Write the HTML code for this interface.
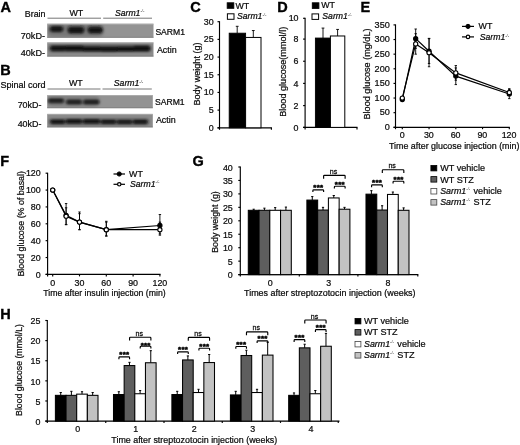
<!DOCTYPE html>
<html><head><meta charset="utf-8"><title>Figure</title>
<style>
html,body{margin:0;padding:0;background:#fff;}
svg{display:block;font-family:'Liberation Sans', Arial, sans-serif;filter:blur(0.3px);}
text{fill:#0a0a0a;}
.t{stroke:#0a0a0a;stroke-width:0.22;}
.p{stroke:#000;stroke-width:0.35;fill:#000;}
.s{stroke:#000;stroke-width:0.45;fill:#000;}
.n{stroke:#111;stroke-width:0.28;fill:#111;}
</style></head>
<body>
<svg width="520" height="445" viewBox="0 0 520 445">
<rect width="520" height="445" fill="#fff"/>
<defs><filter id="blur" x="-20%" y="-100%" width="140%" height="300%"><feGaussianBlur stdDeviation="1.0"/></filter><filter id="blur2" x="-20%" y="-100%" width="140%" height="300%"><feGaussianBlur stdDeviation="1.7"/></filter></defs>
<text class="p" x="0.6" y="11.9" font-size="14.5" font-weight="bold">A</text>
<text class="t" x="24.8" y="17.0" font-size="8.9">Brain</text>
<text class="t" x="76.3" y="15.9" font-size="8.9" text-anchor="middle">WT</text>
<text class="t" x="114.9" y="16.0" font-size="8.9"><tspan font-style="italic" font-size="8.68">Sarm1</tspan><tspan font-size="4.00" dy="-3.74" font-style="italic" stroke="none" fill="#333">-/-</tspan><tspan dy="3.74" dx="0.9"></tspan></text>
<line x1="47.50" y1="18.20" x2="101.00" y2="18.20" stroke="#666" stroke-width="0.9"/>
<line x1="103.20" y1="18.20" x2="152.00" y2="18.20" stroke="#666" stroke-width="0.9"/>
<clipPath id="c1"><rect x="47.2" y="23.7" width="106.3" height="14.1"/></clipPath>
<rect x="47.2" y="23.7" width="106.3" height="14.1" fill="#939393"/>
<g clip-path="url(#c1)">
<g filter="url(#blur2)">
<rect x="49.5" y="25.00" width="14.00" height="7" rx="3.5" fill="#101010" opacity="0.6"/>
<rect x="67.5" y="25.50" width="17.00" height="8" rx="4.0" fill="#101010" opacity="0.65"/>
<rect x="87.5" y="25.50" width="15.50" height="8" rx="4.0" fill="#101010" opacity="0.65"/>
<rect x="47" y="25.00" width="57.00" height="12" rx="6.0" fill="#101010" opacity="0.18"/>
</g>
<g filter="url(#blur)">
<rect x="50.5" y="27.20" width="12.00" height="4.0" rx="2.0" fill="#080808" opacity="0.95"/>
<rect x="68.5" y="28.20" width="15.00" height="4.4" rx="2.2" fill="#080808" opacity="0.95"/>
<rect x="88.5" y="28.10" width="13.50" height="4.4" rx="2.2" fill="#080808" opacity="0.95"/>
</g></g>
<rect x="47.2" y="23.7" width="106.3" height="1" fill="#b5b5b5" opacity="0.7"/>
<rect x="47.2" y="36.8" width="106.3" height="1" fill="#777" opacity="0.6"/>
<clipPath id="c2"><rect x="47.2" y="42.4" width="106.3" height="14.2"/></clipPath>
<rect x="47.2" y="42.4" width="106.3" height="14.2" fill="#8c8c8c"/>
<g clip-path="url(#c2)">
<g filter="url(#blur2)">
<rect x="49" y="45.35" width="102.00" height="6.5" rx="3.25" fill="#101010" opacity="0.55"/>
</g>
<g filter="url(#blur)">
<rect x="50.5" y="46.20" width="15.50" height="4.2" rx="2.1" fill="#080808" opacity="1"/>
<rect x="64" y="45.90" width="20.00" height="4.6" rx="2.3" fill="#080808" opacity="1"/>
<rect x="82" y="46.90" width="20.00" height="4.2" rx="2.1" fill="#080808" opacity="1"/>
<rect x="100" y="47.20" width="18.00" height="4.0" rx="2.0" fill="#080808" opacity="1"/>
<rect x="116" y="47.00" width="19.00" height="4.0" rx="2.0" fill="#080808" opacity="1"/>
<rect x="133" y="46.30" width="17.00" height="4.4" rx="2.2" fill="#080808" opacity="1"/>
</g></g>
<rect x="47.2" y="42.4" width="106.3" height="1" fill="#b5b5b5" opacity="0.7"/>
<rect x="47.2" y="55.599999999999994" width="106.3" height="1" fill="#777" opacity="0.6"/>
<text class="t" x="20.8" y="38.5" font-size="9.05">70kD-</text>
<text class="t" x="20.8" y="55.8" font-size="9.05">40kD-</text>
<text class="t" x="155.4" y="34.5" font-size="8.6">SARM1</text>
<text class="t" x="156.9" y="52.6" font-size="8.9">Actin</text>
<text class="p" x="0.3" y="75.2" font-size="14.5" font-weight="bold">B</text>
<text class="t" x="0.4" y="88.3" font-size="9.05">Spinal cord</text>
<text class="t" x="75.8" y="86.3" font-size="8.9" text-anchor="middle">WT</text>
<text class="t" x="113.8" y="86.3" font-size="8.9"><tspan font-style="italic" font-size="8.68">Sarm1</tspan><tspan font-size="4.00" dy="-3.74" font-style="italic" stroke="none" fill="#333">-/-</tspan><tspan dy="3.74" dx="0.9"></tspan></text>
<line x1="47.50" y1="89.00" x2="100.50" y2="89.00" stroke="#666" stroke-width="0.9"/>
<line x1="102.50" y1="89.00" x2="151.80" y2="89.00" stroke="#666" stroke-width="0.9"/>
<clipPath id="c3"><rect x="47.2" y="95" width="105.6" height="13.2"/></clipPath>
<rect x="47.2" y="95" width="105.6" height="13.2" fill="#939393"/>
<g clip-path="url(#c3)">
<g filter="url(#blur2)">
<rect x="48" y="98.50" width="16.00" height="5" rx="2.5" fill="#101010" opacity="0.45"/>
<rect x="66" y="99.50" width="16.00" height="5" rx="2.5" fill="#101010" opacity="0.45"/>
<rect x="83" y="99.50" width="16.50" height="5" rx="2.5" fill="#101010" opacity="0.45"/>
<rect x="47" y="95.00" width="53.00" height="12" rx="6.0" fill="#101010" opacity="0.12"/>
</g>
<g filter="url(#blur)">
<rect x="48.3" y="99.30" width="15.40" height="3.0" rx="1.5" fill="#080808" opacity="0.95"/>
<rect x="66.3" y="100.50" width="15.40" height="3.0" rx="1.5" fill="#080808" opacity="0.95"/>
<rect x="83.3" y="100.40" width="15.90" height="3.0" rx="1.5" fill="#080808" opacity="0.95"/>
</g></g>
<rect x="47.2" y="95" width="105.6" height="1" fill="#b5b5b5" opacity="0.7"/>
<rect x="47.2" y="107.2" width="105.6" height="1" fill="#777" opacity="0.6"/>
<clipPath id="c4"><rect x="47.2" y="113.9" width="105.6" height="13.5"/></clipPath>
<rect x="47.2" y="113.9" width="105.6" height="13.5" fill="#8c8c8c"/>
<g clip-path="url(#c4)">
<g filter="url(#blur2)">
<rect x="49" y="118.95" width="100.00" height="5.5" rx="2.75" fill="#101010" opacity="0.5"/>
</g>
<g filter="url(#blur)">
<rect x="50.5" y="120.00" width="14.50" height="3.6" rx="1.8" fill="#080808" opacity="1"/>
<rect x="66" y="119.60" width="16.00" height="3.6" rx="1.8" fill="#080808" opacity="1"/>
<rect x="83" y="119.60" width="17.00" height="3.6" rx="1.8" fill="#080808" opacity="1"/>
<rect x="101" y="120.20" width="15.00" height="3.2" rx="1.6" fill="#080808" opacity="1"/>
<rect x="117" y="120.40" width="15.00" height="3.2" rx="1.6" fill="#080808" opacity="1"/>
<rect x="133" y="120.20" width="14.50" height="3.2" rx="1.6" fill="#080808" opacity="1"/>
</g></g>
<rect x="47.2" y="113.9" width="105.6" height="1" fill="#b5b5b5" opacity="0.7"/>
<rect x="47.2" y="126.4" width="105.6" height="1" fill="#777" opacity="0.6"/>
<text class="t" x="17.7" y="108.3" font-size="8.9">70kD-</text>
<text class="t" x="17.7" y="126.8" font-size="8.9">40kD-</text>
<text class="t" x="155.0" y="105.0" font-size="8.6">SARM1</text>
<text class="t" x="155.9" y="123.3" font-size="8.9">Actin</text>
<text class="p" x="190.3" y="11.5" font-size="14.5" font-weight="bold">C</text>
<line x1="219.50" y1="21.20" x2="219.50" y2="129.80" stroke="#000" stroke-width="1.15"/>
<line x1="217.50" y1="127.80" x2="271.90" y2="127.80" stroke="#000" stroke-width="1.15"/>
<line x1="271.40" y1="127.80" x2="271.40" y2="129.80" stroke="#000" stroke-width="1.15"/>
<line x1="217.50" y1="127.80" x2="219.50" y2="127.80" stroke="#000" stroke-width="1.15"/>
<text class="t" x="213.7" y="130.8" font-size="8.9" text-anchor="end">0</text>
<line x1="217.50" y1="110.12" x2="219.50" y2="110.12" stroke="#000" stroke-width="1.15"/>
<text class="t" x="213.7" y="113.11666666666666" font-size="8.9" text-anchor="end">5</text>
<line x1="217.50" y1="92.43" x2="219.50" y2="92.43" stroke="#000" stroke-width="1.15"/>
<text class="t" x="213.7" y="95.43333333333334" font-size="8.9" text-anchor="end">10</text>
<line x1="217.50" y1="74.75" x2="219.50" y2="74.75" stroke="#000" stroke-width="1.15"/>
<text class="t" x="213.7" y="77.75" font-size="8.9" text-anchor="end">15</text>
<line x1="217.50" y1="57.07" x2="219.50" y2="57.07" stroke="#000" stroke-width="1.15"/>
<text class="t" x="213.7" y="60.06666666666666" font-size="8.9" text-anchor="end">20</text>
<line x1="217.50" y1="39.38" x2="219.50" y2="39.38" stroke="#000" stroke-width="1.15"/>
<text class="t" x="213.7" y="42.383333333333326" font-size="8.9" text-anchor="end">25</text>
<line x1="217.50" y1="21.70" x2="219.50" y2="21.70" stroke="#000" stroke-width="1.15"/>
<text class="t" x="213.7" y="24.700000000000003" font-size="8.9" text-anchor="end">30</text>
<rect x="229.20" y="33.19" width="16.40" height="94.61" fill="#000" stroke="#000" stroke-width="0.9"/>
<rect x="245.60" y="37.44" width="15.40" height="90.36" fill="#fff" stroke="#000" stroke-width="1"/>
<line x1="237.20" y1="33.19" x2="237.20" y2="26.30" stroke="#000" stroke-width="0.9"/>
<line x1="235.80" y1="26.30" x2="238.60" y2="26.30" stroke="#000" stroke-width="0.9"/>
<line x1="253.30" y1="37.44" x2="253.30" y2="30.54" stroke="#000" stroke-width="0.9"/>
<line x1="251.90" y1="30.54" x2="254.70" y2="30.54" stroke="#000" stroke-width="0.9"/>
<text class="t" x="200" y="74" font-size="9.1" text-anchor="middle" transform="rotate(-90 200 74)">Body weight (g)</text>
<rect x="227.20" y="2.80" width="6.60" height="5.50" fill="#000" stroke="#000" stroke-width="0.9"/>
<text class="t" x="235.4" y="8.6" font-size="8.9">WT</text>
<rect x="227.40" y="13.80" width="6.60" height="5.50" fill="#fff" stroke="#000" stroke-width="1"/>
<text class="t" x="236.9" y="19.3" font-size="8.9"><tspan font-style="italic" font-size="8.68">Sarm1</tspan><tspan font-size="4.00" dy="-3.74" font-style="italic" stroke="none" fill="#333">-/-</tspan><tspan dy="3.74" dx="0.9"></tspan></text>
<text class="p" x="277.2" y="11.5" font-size="14.5" font-weight="bold">D</text>
<line x1="305.10" y1="17.80" x2="305.10" y2="129.40" stroke="#000" stroke-width="1.15"/>
<line x1="303.10" y1="127.40" x2="357.50" y2="127.40" stroke="#000" stroke-width="1.15"/>
<line x1="357.00" y1="127.40" x2="357.00" y2="129.40" stroke="#000" stroke-width="1.15"/>
<line x1="303.10" y1="127.40" x2="305.10" y2="127.40" stroke="#000" stroke-width="1.15"/>
<text class="t" x="298.5" y="130.5" font-size="8.9" text-anchor="end">0</text>
<line x1="303.10" y1="105.60" x2="305.10" y2="105.60" stroke="#000" stroke-width="1.15"/>
<text class="t" x="298.5" y="108.69999999999999" font-size="8.9" text-anchor="end">2</text>
<line x1="303.10" y1="83.40" x2="305.10" y2="83.40" stroke="#000" stroke-width="1.15"/>
<text class="t" x="298.5" y="86.5" font-size="8.9" text-anchor="end">4</text>
<line x1="303.10" y1="61.25" x2="305.10" y2="61.25" stroke="#000" stroke-width="1.15"/>
<text class="t" x="298.5" y="64.35" font-size="8.9" text-anchor="end">6</text>
<line x1="303.10" y1="39.10" x2="305.10" y2="39.10" stroke="#000" stroke-width="1.15"/>
<text class="t" x="298.5" y="42.2" font-size="8.9" text-anchor="end">8</text>
<line x1="303.10" y1="18.30" x2="305.10" y2="18.30" stroke="#000" stroke-width="1.15"/>
<text class="t" x="298.5" y="21.400000000000002" font-size="8.9" text-anchor="end">10</text>
<rect x="315.40" y="38.06" width="15.00" height="89.34" fill="#000" stroke="#000" stroke-width="0.9"/>
<rect x="330.40" y="35.98" width="14.40" height="91.42" fill="#fff" stroke="#000" stroke-width="1"/>
<line x1="323.00" y1="38.06" x2="323.00" y2="28.08" stroke="#000" stroke-width="0.9"/>
<line x1="321.60" y1="28.08" x2="324.40" y2="28.08" stroke="#000" stroke-width="0.9"/>
<line x1="337.60" y1="35.98" x2="337.60" y2="29.43" stroke="#000" stroke-width="0.9"/>
<line x1="336.20" y1="29.43" x2="339.00" y2="29.43" stroke="#000" stroke-width="0.9"/>
<text class="t" x="286" y="71.8" font-size="9.1" text-anchor="middle" transform="rotate(-90 286 71.8)">Blood glucose(mmol/l)</text>
<rect x="312.30" y="2.80" width="6.60" height="5.60" fill="#000" stroke="#000" stroke-width="0.9"/>
<text class="t" x="321.2" y="8.2" font-size="8.9">WT</text>
<rect x="312.00" y="13.90" width="6.60" height="5.50" fill="#fff" stroke="#000" stroke-width="1"/>
<text class="t" x="322.3" y="19.4" font-size="8.9"><tspan font-style="italic" font-size="8.68">Sarm1</tspan><tspan font-size="4.00" dy="-3.74" font-style="italic" stroke="none" fill="#333">-/-</tspan><tspan dy="3.74" dx="0.9"></tspan></text>
<text class="p" x="360.4" y="11.6" font-size="14.5" font-weight="bold">E</text>
<line x1="395.50" y1="24.40" x2="395.50" y2="129.20" stroke="#000" stroke-width="1.15"/>
<line x1="393.50" y1="127.30" x2="509.80" y2="127.30" stroke="#000" stroke-width="1.15"/>
<line x1="393.50" y1="127.30" x2="395.50" y2="127.30" stroke="#000" stroke-width="1.15"/>
<text class="t" x="389.8" y="130.1" font-size="9.1" text-anchor="end">0</text>
<line x1="393.50" y1="112.67" x2="395.50" y2="112.67" stroke="#000" stroke-width="1.15"/>
<text class="t" x="389.8" y="115.47142857142856" font-size="9.1" text-anchor="end">50</text>
<line x1="393.50" y1="98.04" x2="395.50" y2="98.04" stroke="#000" stroke-width="1.15"/>
<text class="t" x="389.8" y="100.84285714285714" font-size="9.1" text-anchor="end">100</text>
<line x1="393.50" y1="83.41" x2="395.50" y2="83.41" stroke="#000" stroke-width="1.15"/>
<text class="t" x="389.8" y="86.21428571428571" font-size="9.1" text-anchor="end">150</text>
<line x1="393.50" y1="68.79" x2="395.50" y2="68.79" stroke="#000" stroke-width="1.15"/>
<text class="t" x="389.8" y="71.58571428571427" font-size="9.1" text-anchor="end">200</text>
<line x1="393.50" y1="54.16" x2="395.50" y2="54.16" stroke="#000" stroke-width="1.15"/>
<text class="t" x="389.8" y="56.957142857142856" font-size="9.1" text-anchor="end">250</text>
<line x1="393.50" y1="39.53" x2="395.50" y2="39.53" stroke="#000" stroke-width="1.15"/>
<text class="t" x="389.8" y="42.32857142857142" font-size="9.1" text-anchor="end">300</text>
<line x1="393.50" y1="24.90" x2="395.50" y2="24.90" stroke="#000" stroke-width="1.15"/>
<text class="t" x="389.8" y="27.699999999999992" font-size="9.1" text-anchor="end">350</text>
<line x1="402.30" y1="127.30" x2="402.30" y2="129.20" stroke="#000" stroke-width="1.15"/>
<text class="t" x="402.1" y="138.4" font-size="8.9" text-anchor="middle">0</text>
<line x1="429.05" y1="127.30" x2="429.05" y2="129.20" stroke="#000" stroke-width="1.15"/>
<text class="t" x="428.85" y="138.4" font-size="8.9" text-anchor="middle">30</text>
<line x1="455.80" y1="127.30" x2="455.80" y2="129.20" stroke="#000" stroke-width="1.15"/>
<text class="t" x="455.6" y="138.4" font-size="8.9" text-anchor="middle">60</text>
<line x1="482.55" y1="127.30" x2="482.55" y2="129.20" stroke="#000" stroke-width="1.15"/>
<text class="t" x="482.35" y="138.4" font-size="8.9" text-anchor="middle">90</text>
<line x1="509.30" y1="127.30" x2="509.30" y2="129.20" stroke="#000" stroke-width="1.15"/>
<text class="t" x="509.1" y="138.4" font-size="8.9" text-anchor="middle">120</text>
<text class="t" x="454.2" y="148.5" font-size="8.9" text-anchor="middle">Time after glucose injection (min)</text>
<text class="t" x="370.2" y="74" font-size="9.1" text-anchor="middle" transform="rotate(-90 370.2 74)">Blood glucose (mg/dL)</text>
<line x1="402.30" y1="98.04" x2="402.30" y2="100.97" stroke="#000" stroke-width="0.9"/>
<line x1="401.10" y1="98.04" x2="403.50" y2="98.04" stroke="#000" stroke-width="0.9"/>
<line x1="401.10" y1="100.97" x2="403.50" y2="100.97" stroke="#000" stroke-width="0.9"/>
<line x1="415.68" y1="29.00" x2="415.68" y2="48.31" stroke="#000" stroke-width="0.9"/>
<line x1="414.48" y1="29.00" x2="416.88" y2="29.00" stroke="#000" stroke-width="0.9"/>
<line x1="414.48" y1="48.31" x2="416.88" y2="48.31" stroke="#000" stroke-width="0.9"/>
<line x1="429.05" y1="38.36" x2="429.05" y2="63.52" stroke="#000" stroke-width="0.9"/>
<line x1="427.85" y1="38.36" x2="430.25" y2="38.36" stroke="#000" stroke-width="0.9"/>
<line x1="427.85" y1="63.52" x2="430.25" y2="63.52" stroke="#000" stroke-width="0.9"/>
<line x1="455.80" y1="67.91" x2="455.80" y2="84.58" stroke="#000" stroke-width="0.9"/>
<line x1="454.60" y1="67.91" x2="457.00" y2="67.91" stroke="#000" stroke-width="0.9"/>
<line x1="454.60" y1="84.58" x2="457.00" y2="84.58" stroke="#000" stroke-width="0.9"/>
<line x1="509.30" y1="88.68" x2="509.30" y2="98.63" stroke="#000" stroke-width="0.9"/>
<line x1="508.10" y1="88.68" x2="510.50" y2="88.68" stroke="#000" stroke-width="0.9"/>
<line x1="508.10" y1="98.63" x2="510.50" y2="98.63" stroke="#000" stroke-width="0.9"/>
<polyline points="402.30,99.51 415.68,38.65 429.05,51.23 455.80,76.10 509.30,93.95" fill="none" stroke="#000" stroke-width="1.2"/>
<circle cx="402.30" cy="99.51" r="2.1" fill="#000" stroke="#000" stroke-width="1.1"/>
<circle cx="415.68" cy="38.65" r="2.1" fill="#000" stroke="#000" stroke-width="1.1"/>
<circle cx="429.05" cy="51.23" r="2.1" fill="#000" stroke="#000" stroke-width="1.1"/>
<circle cx="455.80" cy="76.10" r="2.1" fill="#000" stroke="#000" stroke-width="1.1"/>
<circle cx="509.30" cy="93.95" r="2.1" fill="#000" stroke="#000" stroke-width="1.1"/>
<line x1="402.30" y1="96.58" x2="402.30" y2="99.51" stroke="#000" stroke-width="0.9"/>
<line x1="401.10" y1="96.58" x2="403.50" y2="96.58" stroke="#000" stroke-width="0.9"/>
<line x1="401.10" y1="99.51" x2="403.50" y2="99.51" stroke="#000" stroke-width="0.9"/>
<line x1="415.68" y1="33.68" x2="415.68" y2="54.16" stroke="#000" stroke-width="0.9"/>
<line x1="414.48" y1="33.68" x2="416.88" y2="33.68" stroke="#000" stroke-width="0.9"/>
<line x1="414.48" y1="54.16" x2="416.88" y2="54.16" stroke="#000" stroke-width="0.9"/>
<line x1="429.05" y1="38.65" x2="429.05" y2="66.74" stroke="#000" stroke-width="0.9"/>
<line x1="427.85" y1="38.65" x2="430.25" y2="38.65" stroke="#000" stroke-width="0.9"/>
<line x1="427.85" y1="66.74" x2="430.25" y2="66.74" stroke="#000" stroke-width="0.9"/>
<line x1="455.80" y1="65.57" x2="455.80" y2="80.20" stroke="#000" stroke-width="0.9"/>
<line x1="454.60" y1="65.57" x2="457.00" y2="65.57" stroke="#000" stroke-width="0.9"/>
<line x1="454.60" y1="80.20" x2="457.00" y2="80.20" stroke="#000" stroke-width="0.9"/>
<line x1="509.30" y1="89.56" x2="509.30" y2="95.41" stroke="#000" stroke-width="0.9"/>
<line x1="508.10" y1="89.56" x2="510.50" y2="89.56" stroke="#000" stroke-width="0.9"/>
<line x1="508.10" y1="95.41" x2="510.50" y2="95.41" stroke="#000" stroke-width="0.9"/>
<polyline points="402.30,98.04 415.68,43.92 429.05,52.69 455.80,72.88 509.30,92.48" fill="none" stroke="#000" stroke-width="1.2"/>
<circle cx="402.30" cy="98.04" r="2.1" fill="#fff" stroke="#000" stroke-width="1.1"/>
<circle cx="415.68" cy="43.92" r="2.1" fill="#fff" stroke="#000" stroke-width="1.1"/>
<circle cx="429.05" cy="52.69" r="2.1" fill="#fff" stroke="#000" stroke-width="1.1"/>
<circle cx="455.80" cy="72.88" r="2.1" fill="#fff" stroke="#000" stroke-width="1.1"/>
<circle cx="509.30" cy="92.48" r="2.1" fill="#fff" stroke="#000" stroke-width="1.1"/>
<line x1="462.00" y1="26.40" x2="474.00" y2="26.40" stroke="#000" stroke-width="1.2"/>
<circle cx="468.0" cy="26.4" r="2.1" fill="#000" stroke="#000" stroke-width="1"/>
<text class="t" x="478.5" y="29.0" font-size="8.9">WT</text>
<line x1="462.00" y1="36.90" x2="474.00" y2="36.90" stroke="#000" stroke-width="1.2"/>
<circle cx="468.0" cy="36.9" r="1.7" fill="#fff" stroke="#000" stroke-width="1.2"/>
<text class="t" x="479.7" y="40.4" font-size="8.9"><tspan font-style="italic" font-size="8.68">Sarm1</tspan><tspan font-size="4.00" dy="-3.74" font-style="italic" stroke="none" fill="#333">-/-</tspan><tspan dy="3.74" dx="0.9"></tspan></text>
<text class="p" x="0.2" y="165.8" font-size="14.5" font-weight="bold">F</text>
<line x1="47.60" y1="172.70" x2="47.60" y2="276.40" stroke="#000" stroke-width="1.15"/>
<line x1="45.60" y1="274.40" x2="160.60" y2="274.40" stroke="#000" stroke-width="1.15"/>
<line x1="45.60" y1="274.40" x2="47.60" y2="274.40" stroke="#000" stroke-width="1.15"/>
<text class="t" x="40.7" y="277.59999999999997" font-size="8.9" text-anchor="end">0</text>
<line x1="45.60" y1="257.53" x2="47.60" y2="257.53" stroke="#000" stroke-width="1.15"/>
<text class="t" x="40.7" y="260.7333333333333" font-size="8.9" text-anchor="end">20</text>
<line x1="45.60" y1="240.67" x2="47.60" y2="240.67" stroke="#000" stroke-width="1.15"/>
<text class="t" x="40.7" y="243.86666666666665" font-size="8.9" text-anchor="end">40</text>
<line x1="45.60" y1="223.80" x2="47.60" y2="223.80" stroke="#000" stroke-width="1.15"/>
<text class="t" x="40.7" y="226.99999999999997" font-size="8.9" text-anchor="end">60</text>
<line x1="45.60" y1="206.93" x2="47.60" y2="206.93" stroke="#000" stroke-width="1.15"/>
<text class="t" x="40.7" y="210.13333333333333" font-size="8.9" text-anchor="end">80</text>
<line x1="45.60" y1="190.07" x2="47.60" y2="190.07" stroke="#000" stroke-width="1.15"/>
<text class="t" x="40.7" y="193.26666666666665" font-size="8.9" text-anchor="end">100</text>
<line x1="45.60" y1="173.20" x2="47.60" y2="173.20" stroke="#000" stroke-width="1.15"/>
<text class="t" x="40.7" y="176.39999999999998" font-size="8.9" text-anchor="end">120</text>
<line x1="52.70" y1="274.40" x2="52.70" y2="276.40" stroke="#000" stroke-width="1.15"/>
<text class="t" x="52.7" y="285.7" font-size="8.9" text-anchor="middle">0</text>
<line x1="79.50" y1="274.40" x2="79.50" y2="276.40" stroke="#000" stroke-width="1.15"/>
<text class="t" x="79.5" y="285.7" font-size="8.9" text-anchor="middle">30</text>
<line x1="106.30" y1="274.40" x2="106.30" y2="276.40" stroke="#000" stroke-width="1.15"/>
<text class="t" x="106.30000000000001" y="285.7" font-size="8.9" text-anchor="middle">60</text>
<line x1="133.10" y1="274.40" x2="133.10" y2="276.40" stroke="#000" stroke-width="1.15"/>
<text class="t" x="133.10000000000002" y="285.7" font-size="8.9" text-anchor="middle">90</text>
<line x1="159.90" y1="274.40" x2="159.90" y2="276.40" stroke="#000" stroke-width="1.15"/>
<text class="t" x="159.9" y="285.7" font-size="8.9" text-anchor="middle">120</text>
<text class="t" x="104.5" y="296.0" font-size="8.7" text-anchor="middle">Time after insulin injection (min)</text>
<text class="t" x="23.6" y="223.8" font-size="8.9" text-anchor="middle" transform="rotate(-90 23.6 223.8)">Blood glucose (% of basal)</text>
<line x1="66.10" y1="203.56" x2="66.10" y2="224.64" stroke="#000" stroke-width="0.9"/>
<line x1="64.90" y1="203.56" x2="67.30" y2="203.56" stroke="#000" stroke-width="0.9"/>
<line x1="64.90" y1="224.64" x2="67.30" y2="224.64" stroke="#000" stroke-width="0.9"/>
<line x1="79.50" y1="211.99" x2="79.50" y2="229.70" stroke="#000" stroke-width="0.9"/>
<line x1="78.30" y1="211.99" x2="80.70" y2="211.99" stroke="#000" stroke-width="0.9"/>
<line x1="78.30" y1="229.70" x2="80.70" y2="229.70" stroke="#000" stroke-width="0.9"/>
<line x1="106.30" y1="221.27" x2="106.30" y2="236.03" stroke="#000" stroke-width="0.9"/>
<line x1="105.10" y1="221.27" x2="107.50" y2="221.27" stroke="#000" stroke-width="0.9"/>
<line x1="105.10" y1="236.03" x2="107.50" y2="236.03" stroke="#000" stroke-width="0.9"/>
<line x1="159.90" y1="214.52" x2="159.90" y2="233.92" stroke="#000" stroke-width="0.9"/>
<line x1="158.70" y1="214.52" x2="161.10" y2="214.52" stroke="#000" stroke-width="0.9"/>
<line x1="158.70" y1="233.92" x2="161.10" y2="233.92" stroke="#000" stroke-width="0.9"/>
<polyline points="52.70,190.07 66.10,215.37 79.50,222.11 106.30,229.70 159.90,225.49" fill="none" stroke="#000" stroke-width="1.2"/>
<circle cx="52.70" cy="190.07" r="2.1" fill="#000" stroke="#000" stroke-width="1.1"/>
<circle cx="66.10" cy="215.37" r="2.1" fill="#000" stroke="#000" stroke-width="1.1"/>
<circle cx="79.50" cy="222.11" r="2.1" fill="#000" stroke="#000" stroke-width="1.1"/>
<circle cx="106.30" cy="229.70" r="2.1" fill="#000" stroke="#000" stroke-width="1.1"/>
<circle cx="159.90" cy="225.49" r="2.1" fill="#000" stroke="#000" stroke-width="1.1"/>
<line x1="66.10" y1="207.78" x2="66.10" y2="224.64" stroke="#000" stroke-width="0.9"/>
<line x1="64.90" y1="207.78" x2="67.30" y2="207.78" stroke="#000" stroke-width="0.9"/>
<line x1="64.90" y1="224.64" x2="67.30" y2="224.64" stroke="#000" stroke-width="0.9"/>
<line x1="79.50" y1="213.68" x2="79.50" y2="229.70" stroke="#000" stroke-width="0.9"/>
<line x1="78.30" y1="213.68" x2="80.70" y2="213.68" stroke="#000" stroke-width="0.9"/>
<line x1="78.30" y1="229.70" x2="80.70" y2="229.70" stroke="#000" stroke-width="0.9"/>
<line x1="106.30" y1="222.11" x2="106.30" y2="236.03" stroke="#000" stroke-width="0.9"/>
<line x1="105.10" y1="222.11" x2="107.50" y2="222.11" stroke="#000" stroke-width="0.9"/>
<line x1="105.10" y1="236.03" x2="107.50" y2="236.03" stroke="#000" stroke-width="0.9"/>
<line x1="159.90" y1="222.11" x2="159.90" y2="235.18" stroke="#000" stroke-width="0.9"/>
<line x1="158.70" y1="222.11" x2="161.10" y2="222.11" stroke="#000" stroke-width="0.9"/>
<line x1="158.70" y1="235.18" x2="161.10" y2="235.18" stroke="#000" stroke-width="0.9"/>
<polyline points="52.70,190.07 66.10,216.21 79.50,222.11 106.30,229.70 159.90,229.70" fill="none" stroke="#000" stroke-width="1.2"/>
<circle cx="52.70" cy="190.07" r="2.1" fill="#fff" stroke="#000" stroke-width="1.1"/>
<circle cx="66.10" cy="216.21" r="2.1" fill="#fff" stroke="#000" stroke-width="1.1"/>
<circle cx="79.50" cy="222.11" r="2.1" fill="#fff" stroke="#000" stroke-width="1.1"/>
<circle cx="106.30" cy="229.70" r="2.1" fill="#fff" stroke="#000" stroke-width="1.1"/>
<circle cx="159.90" cy="229.70" r="2.1" fill="#fff" stroke="#000" stroke-width="1.1"/>
<line x1="113.50" y1="174.00" x2="125.00" y2="174.00" stroke="#000" stroke-width="1.2"/>
<circle cx="119.25" cy="174.0" r="2.1" fill="#000" stroke="#000" stroke-width="1"/>
<text class="t" x="129" y="176.8" font-size="8.9">WT</text>
<line x1="113.50" y1="184.30" x2="125.00" y2="184.30" stroke="#000" stroke-width="1.2"/>
<circle cx="119.25" cy="184.3" r="1.7" fill="#fff" stroke="#000" stroke-width="1.2"/>
<text class="t" x="130" y="187.2" font-size="8.9"><tspan font-style="italic" font-size="8.68">Sarm1</tspan><tspan font-size="4.00" dy="-3.74" font-style="italic" stroke="none" fill="#333">-/-</tspan><tspan dy="3.74" dx="0.9"></tspan></text>
<text class="p" x="192.6" y="165.6" font-size="14.5" font-weight="bold">G</text>
<line x1="240.30" y1="166.50" x2="240.30" y2="276.40" stroke="#000" stroke-width="1.15"/>
<line x1="238.30" y1="274.60" x2="418.30" y2="274.60" stroke="#000" stroke-width="1.15"/>
<line x1="238.30" y1="274.60" x2="240.30" y2="274.60" stroke="#000" stroke-width="1.15"/>
<text class="t" x="232.8" y="278.1" font-size="8.9" text-anchor="end">0</text>
<line x1="238.30" y1="261.15" x2="240.30" y2="261.15" stroke="#000" stroke-width="1.15"/>
<text class="t" x="232.8" y="264.65000000000003" font-size="8.9" text-anchor="end">5</text>
<line x1="238.30" y1="247.70" x2="240.30" y2="247.70" stroke="#000" stroke-width="1.15"/>
<text class="t" x="232.8" y="251.20000000000002" font-size="8.9" text-anchor="end">10</text>
<line x1="238.30" y1="234.25" x2="240.30" y2="234.25" stroke="#000" stroke-width="1.15"/>
<text class="t" x="232.8" y="237.75" font-size="8.9" text-anchor="end">15</text>
<line x1="238.30" y1="220.80" x2="240.30" y2="220.80" stroke="#000" stroke-width="1.15"/>
<text class="t" x="232.8" y="224.3" font-size="8.9" text-anchor="end">20</text>
<line x1="238.30" y1="207.35" x2="240.30" y2="207.35" stroke="#000" stroke-width="1.15"/>
<text class="t" x="232.8" y="210.85000000000002" font-size="8.9" text-anchor="end">25</text>
<line x1="238.30" y1="193.90" x2="240.30" y2="193.90" stroke="#000" stroke-width="1.15"/>
<text class="t" x="232.8" y="197.4" font-size="8.9" text-anchor="end">30</text>
<line x1="238.30" y1="180.45" x2="240.30" y2="180.45" stroke="#000" stroke-width="1.15"/>
<text class="t" x="232.8" y="183.95" font-size="8.9" text-anchor="end">35</text>
<line x1="238.30" y1="167.00" x2="240.30" y2="167.00" stroke="#000" stroke-width="1.15"/>
<text class="t" x="232.8" y="170.5" font-size="8.9" text-anchor="end">40</text>
<line x1="253.68" y1="210.31" x2="253.68" y2="209.23" stroke="#000" stroke-width="1.0"/>
<line x1="252.58" y1="209.23" x2="254.78" y2="209.23" stroke="#000" stroke-width="1.0"/>
<rect x="248.30" y="210.31" width="10.75" height="64.29" fill="#000" stroke="#000" stroke-width="1.05"/>
<line x1="264.43" y1="210.31" x2="264.43" y2="208.16" stroke="#000" stroke-width="1.0"/>
<line x1="263.32" y1="208.16" x2="265.53" y2="208.16" stroke="#000" stroke-width="1.0"/>
<rect x="259.05" y="210.31" width="10.75" height="64.29" fill="#5e5e5e" stroke="#000" stroke-width="1.05"/>
<line x1="275.18" y1="210.31" x2="275.18" y2="207.62" stroke="#000" stroke-width="1.0"/>
<line x1="274.07" y1="207.62" x2="276.28" y2="207.62" stroke="#000" stroke-width="1.0"/>
<rect x="269.80" y="210.31" width="10.75" height="64.29" fill="#fff" stroke="#000" stroke-width="1.05"/>
<line x1="285.93" y1="210.31" x2="285.93" y2="207.08" stroke="#000" stroke-width="1.0"/>
<line x1="284.82" y1="207.08" x2="287.03" y2="207.08" stroke="#000" stroke-width="1.0"/>
<rect x="280.55" y="210.31" width="10.75" height="64.29" fill="#c2c2c2" stroke="#000" stroke-width="1.05"/>
<text class="t" x="270.2" y="285.8" font-size="8.9" text-anchor="middle">0</text>
<line x1="312.27" y1="200.09" x2="312.27" y2="196.59" stroke="#000" stroke-width="1.0"/>
<line x1="311.17" y1="196.59" x2="313.38" y2="196.59" stroke="#000" stroke-width="1.0"/>
<rect x="306.90" y="200.09" width="10.75" height="74.51" fill="#000" stroke="#000" stroke-width="1.05"/>
<line x1="323.02" y1="210.04" x2="323.02" y2="207.35" stroke="#000" stroke-width="1.0"/>
<line x1="321.92" y1="207.35" x2="324.12" y2="207.35" stroke="#000" stroke-width="1.0"/>
<rect x="317.65" y="210.04" width="10.75" height="64.56" fill="#5e5e5e" stroke="#000" stroke-width="1.05"/>
<line x1="333.77" y1="197.94" x2="333.77" y2="195.51" stroke="#000" stroke-width="1.0"/>
<line x1="332.67" y1="195.51" x2="334.88" y2="195.51" stroke="#000" stroke-width="1.0"/>
<rect x="328.40" y="197.94" width="10.75" height="76.67" fill="#fff" stroke="#000" stroke-width="1.05"/>
<line x1="344.52" y1="209.23" x2="344.52" y2="207.35" stroke="#000" stroke-width="1.0"/>
<line x1="343.42" y1="207.35" x2="345.62" y2="207.35" stroke="#000" stroke-width="1.0"/>
<rect x="339.15" y="209.23" width="10.75" height="65.37" fill="#c2c2c2" stroke="#000" stroke-width="1.05"/>
<text class="t" x="328.79999999999995" y="285.8" font-size="8.9" text-anchor="middle">3</text>
<line x1="371.38" y1="194.17" x2="371.38" y2="190.67" stroke="#000" stroke-width="1.0"/>
<line x1="370.27" y1="190.67" x2="372.48" y2="190.67" stroke="#000" stroke-width="1.0"/>
<rect x="366.00" y="194.17" width="10.75" height="80.43" fill="#000" stroke="#000" stroke-width="1.05"/>
<line x1="382.12" y1="210.04" x2="382.12" y2="205.74" stroke="#000" stroke-width="1.0"/>
<line x1="381.02" y1="205.74" x2="383.23" y2="205.74" stroke="#000" stroke-width="1.0"/>
<rect x="376.75" y="210.04" width="10.75" height="64.56" fill="#5e5e5e" stroke="#000" stroke-width="1.05"/>
<line x1="392.88" y1="194.44" x2="392.88" y2="192.02" stroke="#000" stroke-width="1.0"/>
<line x1="391.77" y1="192.02" x2="393.98" y2="192.02" stroke="#000" stroke-width="1.0"/>
<rect x="387.50" y="194.44" width="10.75" height="80.16" fill="#fff" stroke="#000" stroke-width="1.05"/>
<line x1="403.62" y1="210.31" x2="403.62" y2="207.89" stroke="#000" stroke-width="1.0"/>
<line x1="402.52" y1="207.89" x2="404.73" y2="207.89" stroke="#000" stroke-width="1.0"/>
<rect x="398.25" y="210.31" width="10.75" height="64.29" fill="#c2c2c2" stroke="#000" stroke-width="1.05"/>
<text class="t" x="387.9" y="285.8" font-size="8.9" text-anchor="middle">8</text>
<line x1="299.30" y1="274.60" x2="299.30" y2="276.40" stroke="#000" stroke-width="1.15"/>
<line x1="357.90" y1="274.60" x2="357.90" y2="276.40" stroke="#000" stroke-width="1.15"/>
<line x1="417.80" y1="274.60" x2="417.80" y2="276.40" stroke="#000" stroke-width="1.15"/>
<text class="t" x="329.8" y="296.3" font-size="8.95" text-anchor="middle">Times after streptozotocin injection (weeks)</text>
<text class="t" x="217.5" y="222" font-size="8.9" text-anchor="middle" transform="rotate(-90 217.5 222)">Body weight (g)</text>
<path d="M312.88,192.10 V190.60 Q312.88,189.80 313.68,189.80 H322.82 Q323.62,189.80 323.62,190.60 V192.10" fill="none" stroke="#000" stroke-width="1.15"/>
<text class="s" x="318.35" y="190.10" font-size="7.9" text-anchor="middle" font-weight="bold" letter-spacing="0.25">***</text>
<path d="M334.38,188.50 V187.00 Q334.38,186.20 335.18,186.20 H344.32 Q345.12,186.20 345.12,187.00 V188.50" fill="none" stroke="#000" stroke-width="1.15"/>
<text class="s" x="339.85" y="186.50" font-size="7.9" text-anchor="middle" font-weight="bold" letter-spacing="0.25">***</text>
<path d="M323.62,178.70 V176.10 Q323.62,175.30 324.43,175.30 H344.32 Q345.12,175.30 345.12,176.10 V178.70" fill="none" stroke="#000" stroke-width="1.15"/>
<text class="n" x="333.475" y="173.8" font-size="7.8" text-anchor="middle" textLength="7.5" lengthAdjust="spacingAndGlyphs">ns</text>
<path d="M371.57,187.20 V185.70 Q371.57,184.90 372.38,184.90 H381.52 Q382.32,184.90 382.32,185.70 V187.20" fill="none" stroke="#000" stroke-width="1.15"/>
<text class="s" x="377.05" y="185.20" font-size="7.9" text-anchor="middle" font-weight="bold" letter-spacing="0.25">***</text>
<path d="M393.07,183.50 V182.00 Q393.07,181.20 393.88,181.20 H403.02 Q403.82,181.20 403.82,182.00 V183.50" fill="none" stroke="#000" stroke-width="1.15"/>
<text class="s" x="398.55" y="181.50" font-size="7.9" text-anchor="middle" font-weight="bold" letter-spacing="0.25">***</text>
<path d="M382.32,173.10 V170.50 Q382.32,169.70 383.12,169.70 H403.02 Q403.82,169.70 403.82,170.50 V173.10" fill="none" stroke="#000" stroke-width="1.15"/>
<text class="n" x="392.175" y="168.2" font-size="7.8" text-anchor="middle" textLength="7.5" lengthAdjust="spacingAndGlyphs">ns</text>
<rect x="430.90" y="165.40" width="5.90" height="5.50" fill="#000" stroke="#000" stroke-width="0.8"/>
<rect x="430.90" y="176.60" width="5.90" height="5.50" fill="#5e5e5e" stroke="#000" stroke-width="0.8"/>
<rect x="430.90" y="188.50" width="5.90" height="5.50" fill="#fff" stroke="#444" stroke-width="0.8"/>
<rect x="430.90" y="199.60" width="5.90" height="5.50" fill="#c2c2c2" stroke="#444" stroke-width="0.8"/>
<text class="t" x="440.2" y="171.3" font-size="9.1">WT vehicle</text>
<text class="t" x="440.2" y="182.5" font-size="9.1">WT STZ</text>
<text class="t" x="440.2" y="193.7" font-size="9.1"><tspan font-style="italic" font-size="8.87">Sarm1</tspan><tspan font-size="4.09" dy="-3.82" font-style="italic" stroke="none" fill="#333">-/-</tspan><tspan dy="3.82" dx="0.9"> vehicle</tspan></text>
<text class="t" x="440.2" y="205.0" font-size="9.1"><tspan font-style="italic" font-size="8.87">Sarm1</tspan><tspan font-size="4.09" dy="-3.82" font-style="italic" stroke="none" fill="#333">-/-</tspan><tspan dy="3.82" dx="0.9"> STZ</tspan></text>
<text class="p" x="0.2" y="318.5" font-size="14.5" font-weight="bold">H</text>
<line x1="47.30" y1="320.00" x2="47.30" y2="422.90" stroke="#000" stroke-width="1.15"/>
<line x1="45.30" y1="421.10" x2="339.50" y2="421.10" stroke="#000" stroke-width="1.15"/>
<line x1="45.30" y1="421.10" x2="47.30" y2="421.10" stroke="#000" stroke-width="1.15"/>
<text class="t" x="40.4" y="424.8" font-size="8.9" text-anchor="end">0</text>
<line x1="45.30" y1="400.98" x2="47.30" y2="400.98" stroke="#000" stroke-width="1.15"/>
<text class="t" x="40.4" y="404.68" font-size="8.9" text-anchor="end">5</text>
<line x1="45.30" y1="380.86" x2="47.30" y2="380.86" stroke="#000" stroke-width="1.15"/>
<text class="t" x="40.4" y="384.56" font-size="8.9" text-anchor="end">10</text>
<line x1="45.30" y1="360.74" x2="47.30" y2="360.74" stroke="#000" stroke-width="1.15"/>
<text class="t" x="40.4" y="364.44" font-size="8.9" text-anchor="end">15</text>
<line x1="45.30" y1="340.62" x2="47.30" y2="340.62" stroke="#000" stroke-width="1.15"/>
<text class="t" x="40.4" y="344.32" font-size="8.9" text-anchor="end">20</text>
<line x1="45.30" y1="320.50" x2="47.30" y2="320.50" stroke="#000" stroke-width="1.15"/>
<text class="t" x="40.4" y="324.2" font-size="8.9" text-anchor="end">25</text>
<line x1="60.73" y1="395.35" x2="60.73" y2="392.53" stroke="#000" stroke-width="1.0"/>
<line x1="59.62" y1="392.53" x2="61.83" y2="392.53" stroke="#000" stroke-width="1.0"/>
<rect x="55.40" y="395.35" width="10.65" height="25.75" fill="#000" stroke="#000" stroke-width="1.05"/>
<line x1="71.38" y1="395.35" x2="71.38" y2="391.32" stroke="#000" stroke-width="1.0"/>
<line x1="70.28" y1="391.32" x2="72.47" y2="391.32" stroke="#000" stroke-width="1.0"/>
<rect x="66.05" y="395.35" width="10.65" height="25.75" fill="#5e5e5e" stroke="#000" stroke-width="1.05"/>
<line x1="82.03" y1="394.14" x2="82.03" y2="391.72" stroke="#000" stroke-width="1.0"/>
<line x1="80.93" y1="391.72" x2="83.12" y2="391.72" stroke="#000" stroke-width="1.0"/>
<rect x="76.70" y="394.14" width="10.65" height="26.96" fill="#fff" stroke="#000" stroke-width="1.05"/>
<line x1="92.67" y1="395.35" x2="92.67" y2="392.53" stroke="#000" stroke-width="1.0"/>
<line x1="91.58" y1="392.53" x2="93.77" y2="392.53" stroke="#000" stroke-width="1.0"/>
<rect x="87.35" y="395.35" width="10.65" height="25.75" fill="#c2c2c2" stroke="#000" stroke-width="1.05"/>
<text class="t" x="77.7" y="431.8" font-size="8.9" text-anchor="middle">0</text>
<line x1="118.83" y1="394.54" x2="118.83" y2="391.72" stroke="#000" stroke-width="1.0"/>
<line x1="117.73" y1="391.72" x2="119.92" y2="391.72" stroke="#000" stroke-width="1.0"/>
<rect x="113.50" y="394.54" width="10.65" height="26.56" fill="#000" stroke="#000" stroke-width="1.05"/>
<line x1="129.47" y1="365.57" x2="129.47" y2="362.35" stroke="#000" stroke-width="1.0"/>
<line x1="128.38" y1="362.35" x2="130.57" y2="362.35" stroke="#000" stroke-width="1.0"/>
<rect x="124.15" y="365.57" width="10.65" height="55.53" fill="#5e5e5e" stroke="#000" stroke-width="1.05"/>
<line x1="140.12" y1="393.74" x2="140.12" y2="390.52" stroke="#000" stroke-width="1.0"/>
<line x1="139.03" y1="390.52" x2="141.22" y2="390.52" stroke="#000" stroke-width="1.0"/>
<rect x="134.80" y="393.74" width="10.65" height="27.36" fill="#fff" stroke="#000" stroke-width="1.05"/>
<line x1="150.77" y1="362.75" x2="150.77" y2="350.68" stroke="#000" stroke-width="1.0"/>
<line x1="149.67" y1="350.68" x2="151.87" y2="350.68" stroke="#000" stroke-width="1.0"/>
<rect x="145.45" y="362.75" width="10.65" height="58.35" fill="#c2c2c2" stroke="#000" stroke-width="1.05"/>
<text class="t" x="135.8" y="431.8" font-size="8.9" text-anchor="middle">1</text>
<line x1="177.22" y1="394.54" x2="177.22" y2="391.32" stroke="#000" stroke-width="1.0"/>
<line x1="176.12" y1="391.32" x2="178.32" y2="391.32" stroke="#000" stroke-width="1.0"/>
<rect x="171.90" y="394.54" width="10.65" height="26.56" fill="#000" stroke="#000" stroke-width="1.05"/>
<line x1="187.88" y1="359.94" x2="187.88" y2="355.91" stroke="#000" stroke-width="1.0"/>
<line x1="186.78" y1="355.91" x2="188.97" y2="355.91" stroke="#000" stroke-width="1.0"/>
<rect x="182.55" y="359.94" width="10.65" height="61.16" fill="#5e5e5e" stroke="#000" stroke-width="1.05"/>
<line x1="198.53" y1="392.53" x2="198.53" y2="389.31" stroke="#000" stroke-width="1.0"/>
<line x1="197.43" y1="389.31" x2="199.62" y2="389.31" stroke="#000" stroke-width="1.0"/>
<rect x="193.20" y="392.53" width="10.65" height="28.57" fill="#fff" stroke="#000" stroke-width="1.05"/>
<line x1="209.18" y1="362.55" x2="209.18" y2="354.50" stroke="#000" stroke-width="1.0"/>
<line x1="208.08" y1="354.50" x2="210.28" y2="354.50" stroke="#000" stroke-width="1.0"/>
<rect x="203.85" y="362.55" width="10.65" height="58.55" fill="#c2c2c2" stroke="#000" stroke-width="1.05"/>
<text class="t" x="194.20000000000002" y="431.8" font-size="8.9" text-anchor="middle">2</text>
<line x1="235.72" y1="394.94" x2="235.72" y2="391.32" stroke="#000" stroke-width="1.0"/>
<line x1="234.62" y1="391.32" x2="236.82" y2="391.32" stroke="#000" stroke-width="1.0"/>
<rect x="230.40" y="394.94" width="10.65" height="26.16" fill="#000" stroke="#000" stroke-width="1.05"/>
<line x1="246.38" y1="355.51" x2="246.38" y2="350.28" stroke="#000" stroke-width="1.0"/>
<line x1="245.28" y1="350.28" x2="247.47" y2="350.28" stroke="#000" stroke-width="1.0"/>
<rect x="241.05" y="355.51" width="10.65" height="65.59" fill="#5e5e5e" stroke="#000" stroke-width="1.05"/>
<line x1="257.03" y1="392.53" x2="257.03" y2="389.31" stroke="#000" stroke-width="1.0"/>
<line x1="255.93" y1="389.31" x2="258.13" y2="389.31" stroke="#000" stroke-width="1.0"/>
<rect x="251.70" y="392.53" width="10.65" height="28.57" fill="#fff" stroke="#000" stroke-width="1.05"/>
<line x1="267.68" y1="355.11" x2="267.68" y2="342.23" stroke="#000" stroke-width="1.0"/>
<line x1="266.57" y1="342.23" x2="268.78" y2="342.23" stroke="#000" stroke-width="1.0"/>
<rect x="262.35" y="355.11" width="10.65" height="65.99" fill="#c2c2c2" stroke="#000" stroke-width="1.05"/>
<text class="t" x="252.70000000000002" y="431.8" font-size="8.9" text-anchor="middle">3</text>
<line x1="294.02" y1="395.35" x2="294.02" y2="392.93" stroke="#000" stroke-width="1.0"/>
<line x1="292.92" y1="392.93" x2="295.12" y2="392.93" stroke="#000" stroke-width="1.0"/>
<rect x="288.70" y="395.35" width="10.65" height="25.75" fill="#000" stroke="#000" stroke-width="1.05"/>
<line x1="304.67" y1="347.86" x2="304.67" y2="344.24" stroke="#000" stroke-width="1.0"/>
<line x1="303.57" y1="344.24" x2="305.77" y2="344.24" stroke="#000" stroke-width="1.0"/>
<rect x="299.35" y="347.86" width="10.65" height="73.24" fill="#5e5e5e" stroke="#000" stroke-width="1.05"/>
<line x1="315.32" y1="393.74" x2="315.32" y2="390.52" stroke="#000" stroke-width="1.0"/>
<line x1="314.22" y1="390.52" x2="316.43" y2="390.52" stroke="#000" stroke-width="1.0"/>
<rect x="310.00" y="393.74" width="10.65" height="27.36" fill="#fff" stroke="#000" stroke-width="1.05"/>
<line x1="325.97" y1="346.25" x2="325.97" y2="333.38" stroke="#000" stroke-width="1.0"/>
<line x1="324.87" y1="333.38" x2="327.07" y2="333.38" stroke="#000" stroke-width="1.0"/>
<rect x="320.65" y="346.25" width="10.65" height="74.85" fill="#c2c2c2" stroke="#000" stroke-width="1.05"/>
<text class="t" x="311.0" y="431.8" font-size="8.9" text-anchor="middle">4</text>
<line x1="105.75" y1="421.10" x2="105.75" y2="422.90" stroke="#000" stroke-width="1.15"/>
<line x1="164.00" y1="421.10" x2="164.00" y2="422.90" stroke="#000" stroke-width="1.15"/>
<line x1="222.25" y1="421.10" x2="222.25" y2="422.90" stroke="#000" stroke-width="1.15"/>
<line x1="280.50" y1="421.10" x2="280.50" y2="422.90" stroke="#000" stroke-width="1.15"/>
<line x1="338.25" y1="421.10" x2="338.25" y2="422.90" stroke="#000" stroke-width="1.15"/>
<text class="t" x="194.3" y="442.5" font-size="8.9" text-anchor="middle">Time after streptozotocin injection (weeks)</text>
<text class="t" x="22.3" y="370.0" font-size="8.75" text-anchor="middle" transform="rotate(-90 22.3 370.0)">Blood glucose (mmol/L)</text>
<path d="M118.92,359.20 V357.70 Q118.92,356.90 119.72,356.90 H128.77 Q129.57,356.90 129.57,357.70 V359.20" fill="none" stroke="#000" stroke-width="1.15"/>
<text class="s" x="124.35" y="357.20" font-size="7.9" text-anchor="middle" font-weight="bold" letter-spacing="0.25">***</text>
<path d="M140.22,348.50 V347.00 Q140.22,346.20 141.03,346.20 H150.07 Q150.88,346.20 150.88,347.00 V348.50" fill="none" stroke="#000" stroke-width="1.15"/>
<text class="s" x="145.65" y="347.50" font-size="7.9" text-anchor="middle" font-weight="bold" letter-spacing="0.25">***</text>
<path d="M129.57,340.60 V338.00 Q129.57,337.20 130.38,337.20 H150.07 Q150.88,337.20 150.88,338.00 V340.60" fill="none" stroke="#000" stroke-width="1.15"/>
<text class="n" x="139.325" y="335.7" font-size="7.8" text-anchor="middle" textLength="7.5" lengthAdjust="spacingAndGlyphs">ns</text>
<path d="M177.62,354.10 V352.60 Q177.62,351.80 178.43,351.80 H187.47 Q188.28,351.80 188.28,352.60 V354.10" fill="none" stroke="#000" stroke-width="1.15"/>
<text class="s" x="183.05" y="351.70" font-size="7.9" text-anchor="middle" font-weight="bold" letter-spacing="0.25">***</text>
<path d="M198.93,350.50 V349.00 Q198.93,348.20 199.73,348.20 H208.78 Q209.58,348.20 209.58,349.00 V350.50" fill="none" stroke="#000" stroke-width="1.15"/>
<text class="s" x="204.35" y="348.90" font-size="7.9" text-anchor="middle" font-weight="bold" letter-spacing="0.25">***</text>
<path d="M188.28,340.80 V338.20 Q188.28,337.40 189.08,337.40 H208.78 Q209.58,337.40 209.58,338.20 V340.80" fill="none" stroke="#000" stroke-width="1.15"/>
<text class="n" x="198.025" y="335.9" font-size="7.8" text-anchor="middle" textLength="7.5" lengthAdjust="spacingAndGlyphs">ns</text>
<path d="M235.82,348.80 V347.30 Q235.82,346.50 236.62,346.50 H245.67 Q246.47,346.50 246.47,347.30 V348.80" fill="none" stroke="#000" stroke-width="1.15"/>
<text class="s" x="241.25" y="346.80" font-size="7.9" text-anchor="middle" font-weight="bold" letter-spacing="0.25">***</text>
<path d="M257.12,343.10 V341.60 Q257.12,340.80 257.93,340.80 H266.97 Q267.77,340.80 267.77,341.60 V343.10" fill="none" stroke="#000" stroke-width="1.15"/>
<text class="s" x="262.55" y="341.10" font-size="7.9" text-anchor="middle" font-weight="bold" letter-spacing="0.25">***</text>
<path d="M246.47,335.30 V332.70 Q246.47,331.90 247.28,331.90 H266.97 Q267.77,331.90 267.77,332.70 V335.30" fill="none" stroke="#000" stroke-width="1.15"/>
<text class="n" x="256.225" y="330.4" font-size="7.8" text-anchor="middle" textLength="7.5" lengthAdjust="spacingAndGlyphs">ns</text>
<path d="M294.12,341.90 V340.40 Q294.12,339.60 294.93,339.60 H303.98 Q304.78,339.60 304.78,340.40 V341.90" fill="none" stroke="#000" stroke-width="1.15"/>
<text class="s" x="299.55" y="339.90" font-size="7.9" text-anchor="middle" font-weight="bold" letter-spacing="0.25">***</text>
<path d="M315.43,331.90 V330.40 Q315.43,329.60 316.23,329.60 H325.27 Q326.07,329.60 326.07,330.40 V331.90" fill="none" stroke="#000" stroke-width="1.15"/>
<text class="s" x="320.85" y="329.90" font-size="7.9" text-anchor="middle" font-weight="bold" letter-spacing="0.25">***</text>
<path d="M304.78,323.40 V320.80 Q304.78,320.00 305.58,320.00 H325.27 Q326.07,320.00 326.07,320.80 V323.40" fill="none" stroke="#000" stroke-width="1.15"/>
<text class="n" x="314.52500000000003" y="318.5" font-size="7.8" text-anchor="middle" textLength="7.5" lengthAdjust="spacingAndGlyphs">ns</text>
<rect x="355.00" y="318.40" width="5.90" height="5.50" fill="#000" stroke="#000" stroke-width="0.8"/>
<rect x="355.00" y="329.60" width="5.90" height="5.50" fill="#5e5e5e" stroke="#000" stroke-width="0.8"/>
<rect x="355.00" y="341.40" width="5.90" height="5.50" fill="#fff" stroke="#444" stroke-width="0.8"/>
<rect x="355.00" y="352.60" width="5.90" height="5.50" fill="#c2c2c2" stroke="#444" stroke-width="0.8"/>
<text class="t" x="364" y="324.2" font-size="9.1">WT vehicle</text>
<text class="t" x="364" y="335.2" font-size="9.1">WT STZ</text>
<text class="t" x="364" y="347.0" font-size="9.1"><tspan font-style="italic" font-size="8.87">Sarm1</tspan><tspan font-size="4.09" dy="-3.82" font-style="italic" stroke="none" fill="#333">-/-</tspan><tspan dy="3.82" dx="0.9"> vehicle</tspan></text>
<text class="t" x="364" y="358.2" font-size="9.1"><tspan font-style="italic" font-size="8.87">Sarm1</tspan><tspan font-size="4.09" dy="-3.82" font-style="italic" stroke="none" fill="#333">-/-</tspan><tspan dy="3.82" dx="0.9"> STZ</tspan></text>
</svg>
</body></html>
